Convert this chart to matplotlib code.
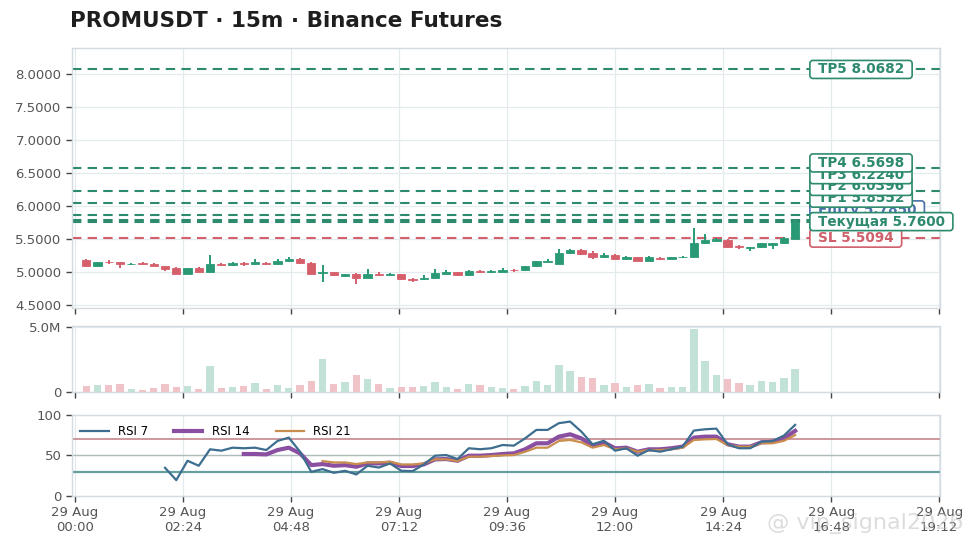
import matplotlib
matplotlib.use("Agg")
import matplotlib.pyplot as plt
import matplotlib.dates as mdates
import matplotlib.transforms as mtransforms
from matplotlib.patches import FancyBboxPatch
import numpy as np
import pandas as pd

# ---------------- data ----------------
title = "PROMUSDT · 15m · Binance Futures"
times = pd.date_range("2025-08-29 00:15", periods=64, freq="15min")

opens = [5.18, 5.09, 5.15, 5.14, 5.11, 5.13, 5.12, 5.08, 5.06, 4.97,
         5.06, 5.00, 5.12, 5.10, 5.13, 5.11, 5.13, 5.11, 5.16, 5.20,
         5.13, 4.98, 4.99, 4.94, 4.96, 4.91, 4.97, 4.95, 4.96, 4.89,
         4.89, 4.91, 4.97, 4.99, 4.95, 5.01, 4.99, 5.00, 5.03, 5.02,
         5.08, 5.15, 5.12, 5.28, 5.33, 5.29, 5.22, 5.26, 5.20, 5.22,
         5.17, 5.21, 5.20, 5.22, 5.23, 5.44, 5.47, 5.48, 5.39, 5.36,
         5.37, 5.41, 5.43, 5.50]
highs = [5.19, 5.15, 5.18, 5.15, 5.13, 5.15, 5.13, 5.09, 5.07, 5.06,
         5.07, 5.26, 5.13, 5.15, 5.14, 5.20, 5.14, 5.20, 5.22, 5.21,
         5.14, 5.10, 5.00, 4.97, 4.98, 5.04, 4.99, 4.98, 4.97, 4.90,
         4.95, 5.04, 5.03, 5.00, 5.03, 5.02, 5.03, 5.05, 5.04, 5.09,
         5.17, 5.19, 5.35, 5.35, 5.34, 5.31, 5.28, 5.27, 5.24, 5.23,
         5.24, 5.22, 5.23, 5.24, 5.66, 5.57, 5.51, 5.49, 5.41, 5.38,
         5.44, 5.44, 5.52, 5.78]
lows = [5.08, 5.07, 5.12, 5.06, 5.10, 5.10, 5.08, 5.01, 4.96, 4.96,
        4.99, 4.99, 5.09, 5.09, 5.09, 5.10, 5.10, 5.10, 5.15, 5.12,
        4.96, 4.84, 4.94, 4.92, 4.81, 4.90, 4.93, 4.93, 4.88, 4.85,
        4.88, 4.90, 4.96, 4.94, 4.94, 4.98, 4.98, 4.99, 5.00, 5.01,
        5.07, 5.14, 5.11, 5.27, 5.25, 5.20, 5.21, 5.19, 5.19, 5.16,
        5.16, 5.18, 5.19, 5.21, 5.22, 5.42, 5.46, 5.36, 5.34, 5.32,
        5.36, 5.35, 5.42, 5.49]
closes = [5.09, 5.14, 5.14, 5.12, 5.12, 5.11, 5.08, 5.04, 4.97, 5.05,
          5.00, 5.12, 5.10, 5.13, 5.11, 5.14, 5.11, 5.17, 5.20, 5.13,
          4.97, 5.00, 4.95, 4.96, 4.91, 4.97, 4.95, 4.96, 4.89, 4.88,
          4.91, 4.98, 4.99, 4.95, 5.01, 4.99, 5.01, 5.03, 5.02, 5.08,
          5.16, 5.17, 5.28, 5.33, 5.27, 5.22, 5.26, 5.20, 5.22, 5.17,
          5.22, 5.20, 5.22, 5.23, 5.43, 5.48, 5.49, 5.37, 5.37, 5.37,
          5.43, 5.43, 5.51, 5.76]
volumes_m = [0.44, 0.51, 0.51, 0.59, 0.20, 0.13, 0.28, 0.59, 0.36, 0.44,
             0.23, 1.97, 0.28, 0.36, 0.44, 0.67, 0.23, 0.51, 0.28, 0.51,
             0.82, 2.51, 0.59, 0.74, 1.28, 0.97, 0.59, 0.28, 0.36, 0.36,
             0.44, 0.74, 0.36, 0.20, 0.59, 0.51, 0.36, 0.28, 0.20, 0.44,
             0.82, 0.51, 2.05, 1.59, 1.13, 1.05, 0.51, 0.67, 0.36, 0.51,
             0.59, 0.28, 0.36, 0.36, 4.82, 2.36, 1.28, 0.97, 0.67, 0.51,
             0.82, 0.74, 1.05, 1.74]
rsi7 = [None] * 7 + [34.7, 19.5, 43.4, 37.2, 57.5, 55.8, 59.5, 58.8, 59.5, 56.6,
        67.8, 71.9, 54.5, 29.7, 33.1, 28.5, 31.0, 26.5, 37.2, 35.0,
        40.0, 31.0, 30.6, 38.8, 49.6, 50.4, 45.5, 58.8, 57.6, 58.8,
        62.8, 62.0, 71.0, 81.4, 81.4, 89.7, 91.7, 79.3, 63.7, 68.0,
        55.8, 58.8, 49.6, 56.6, 54.5, 57.6, 60.8, 80.6, 82.2, 83.0,
        63.7, 58.8, 58.8, 66.9, 67.8, 74.4, 87.6]
rsi14 = [None] * 14 + [51.7, 51.7, 51.2, 56.6, 59.5, 52.5, 38.0, 39.3, 37.2, 38.0,
         36.0, 40.1, 40.1, 41.0, 36.9, 36.9, 38.9, 45.1, 45.5, 43.4,
         49.6, 49.6, 50.4, 51.7, 52.5, 57.5, 64.9, 64.9, 73.1, 76.0,
         71.0, 62.0, 66.1, 58.7, 59.5, 54.5, 57.5, 57.5, 58.8, 60.8,
         71.9, 73.1, 73.1, 63.7, 60.8, 60.8, 66.1, 66.9, 71.0, 80.2]
rsi21 = [None] * 21 + [43.0, 41.3, 41.3, 39.3, 41.3, 41.3, 42.1, 38.8, 38.8, 40.1,
         45.1, 45.1, 43.0, 48.4, 48.4, 49.2, 50.0, 50.4, 54.5, 59.5,
         59.5, 67.8, 69.0, 66.1, 59.5, 62.8, 57.6, 58.8, 54.5, 56.6,
         56.6, 57.6, 59.5, 69.0, 69.8, 70.2, 62.8, 60.8, 60.8, 64.9,
         64.9, 68.0, 75.0]

level_names = ["SL", "Entry", "Текущая", "TP1", "TP2", "TP3", "TP4", "TP5"]
level_prices = [5.5094, 5.7850, 5.7600, 5.8552, 6.0396, 6.2240, 6.5698, 8.0682]
level_kinds = ["sl", "entry", "cur", "tp", "tp", "tp", "tp", "tp"]

price_ticks = [4.5, 5.0, 5.5, 6.0, 6.5, 7.0, 7.5, 8.0]
x_tick_times = pd.date_range("2025-08-29 00:00", periods=9, freq="144min")

# ---------------- style ----------------
GREEN = "#2a9a76"
RED = "#d65f6c"
TPGREEN = "#2e8a6e"
SLRED = "#cf5f6b"
BLUE = "#4a70a8"
LGREEN = "#c2e2d8"
LRED = "#efc3c8"
GRID = "#e4ebef"
SPINE = "#d3dbe1"
TXT = "#555555"

plt.rcParams["font.family"] = ["DejaVu Sans"]

fig = plt.figure(figsize=(9.73, 5.48), dpi=100)
L, R = 0.074, 0.966
ax_p = fig.add_axes([L, 0.438, R - L, 0.912 - 0.438])
ax_v = fig.add_axes([L, 0.285, R - L, 0.405 - 0.285], sharex=ax_p)
ax_r = fig.add_axes([L, 0.095, R - L, 0.243 - 0.095], sharex=ax_p)

for ax in (ax_p, ax_v, ax_r):
    ax.set_facecolor("white")
    for s in ax.spines.values():
        s.set_color(SPINE)
        s.set_linewidth(1.0)
    ax.grid(True, color=GRID, linewidth=0.9)
    ax.set_axisbelow(True)
    ax.tick_params(axis="both", colors="#444444", labelcolor=TXT, labelsize=9.5,
                   length=4, width=1)

xn = mdates.date2num(times)
day = 1.0 / (24 * 60)
width = 15 * day * 0.74

# candles
for x, o, h, l, c in zip(xn, opens, highs, lows, closes):
    col = GREEN if c >= o else RED
    ax_p.vlines(x, l, h, color=col, linewidth=1.4, zorder=3)
    bottom = min(o, c)
    height = max(abs(c - o), 0.008)
    ax_p.bar(x, height, width=width, bottom=bottom, color=col, edgecolor=col,
             linewidth=0.6, zorder=4)

# levels
trans = mtransforms.blended_transform_factory(ax_p.transAxes, ax_p.transData)
line_colors = {"sl": RED, "entry": TPGREEN, "cur": TPGREEN, "tp": TPGREEN}
box_colors = {"sl": SLRED, "entry": BLUE, "cur": TPGREEN, "tp": TPGREEN}
for name, p, k in zip(level_names, level_prices, level_kinds):
    ax_p.axhline(p, color=line_colors[k], linestyle=(0, (4.5, 3)), linewidth=1.5,
                 zorder=2)

ax_p.set_ylim(4.45, 8.39)
ax_p.set_yticks(price_ticks)
ax_p.set_yticklabels([f"{t:.4f}" for t in price_ticks])
ax_p.tick_params(axis="x", labelbottom=False)

# label placement (stacked to avoid overlap)
order = np.argsort(level_prices)
gap = 0.178
prev = -1e9
label_y = {}
for idx in order:
    y = max(level_prices[idx], prev + gap)
    label_y[idx] = y
    prev = y

label_texts = []
for z, idx in enumerate(range(len(level_names))):
    name, p, k = level_names[idx], level_prices[idx], level_kinds[idx]
    t = ax_p.text(0.8594, label_y[idx], f"{name} {p:.4f}", transform=trans,
                  ha="left", va="center", fontsize=9.8, fontweight="bold",
                  color=box_colors[k], zorder=10 + 2 * z + 1, clip_on=False)
    label_texts.append((t, box_colors[k], 10 + 2 * z))

# volume
vol_cols = [LGREEN if c >= o else LRED for o, c in zip(opens, closes)]
ax_v.bar(xn, [v * 1e6 for v in volumes_m], width=15 * day * 0.65, color=vol_cols, zorder=3)
ax_v.set_ylim(0, max(volumes_m) * 1e6 * 1.05)
ax_v.set_yticks([0, 5e6])
ax_v.set_yticklabels(["0", "5.0M"])
ax_v.tick_params(axis="x", labelbottom=False)

# RSI
def arr(v):
    return np.array([np.nan if a is None else a for a in v], dtype=float)

ax_r.axhline(70, color="#c99096", linewidth=1.3, zorder=2)
ax_r.axhline(50, color="#aebcbc", linewidth=1.0, zorder=2)
ax_r.axhline(30, color="#669f9f", linewidth=1.6, zorder=2)
ax_r.plot(xn, arr(rsi7), color="#3d6e8f", linewidth=1.6, label="RSI 7", zorder=5)
ax_r.plot(xn, arr(rsi14), color="#8a4fa0", linewidth=3.0, label="RSI 14", zorder=4)
ax_r.plot(xn, arr(rsi21), color="#c98d4e", linewidth=1.6, label="RSI 21", zorder=4)
ax_r.set_ylim(0, 100)
ax_r.set_yticks([0, 50, 100])
ax_r.legend(loc="upper left", ncol=3, frameon=False, fontsize=8.5,
            handlelength=2.4, columnspacing=2.2, borderaxespad=0.3,
            bbox_to_anchor=(0.0, 0.98))

ax_r.set_xticks(mdates.date2num(x_tick_times))
ax_r.xaxis.set_major_formatter(mdates.DateFormatter("%d %b\n%H:%M"))
ax_r.set_xlim(mdates.date2num(pd.Timestamp("2025-08-29 00:00")) - 4 * day,
              mdates.date2num(pd.Timestamp("2025-08-29 19:13")))

fig.text(0.072, 0.962, title, fontsize=15.5, fontweight="bold", color="#1e1e1e",
         ha="left", va="center")

fig.text(0.99, 0.045, "@ vip_signal2026", fontsize=16, color="#bbbbbb", alpha=0.5,
         ha="right", va="center")

# label boxes (wider horizontal padding than vertical)
fig.canvas.draw()
renderer = fig.canvas.get_renderer()
for t, col, zb in label_texts:
    bb = t.get_window_extent(renderer)
    patch = FancyBboxPatch((bb.x0 - 8, bb.y0 - 2.0), bb.width + 16, bb.height + 4.0,
                           boxstyle="round,pad=0,rounding_size=3",
                           transform=mtransforms.IdentityTransform(),
                           fc="white", ec=col, lw=1.2, zorder=zb, clip_on=False)
    ax_p.add_artist(patch)

fig.savefig("out.png", dpi=100, facecolor="white")
